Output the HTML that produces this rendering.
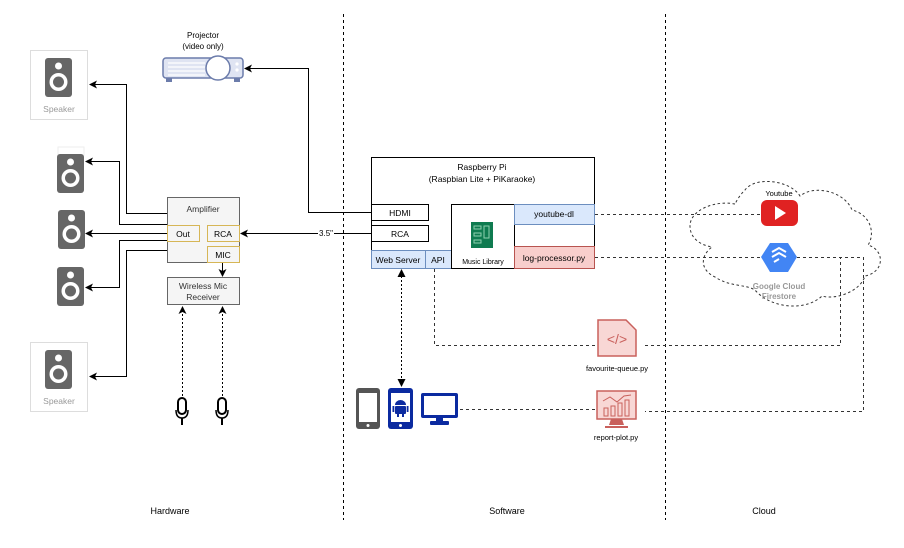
<!DOCTYPE html>
<html><head><meta charset="utf-8"><style>
html,body{margin:0;padding:0;background:#fff;}
svg{display:block;font-family:"Liberation Sans",Arial,sans-serif;}
</style></head><body>
<svg width="904" height="548" viewBox="0 0 904 548" xmlns="http://www.w3.org/2000/svg">
<defs>
<marker id="ah" markerWidth="8" markerHeight="8" refX="7" refY="4" orient="auto" markerUnits="userSpaceOnUse"><path d="M0,0 L8,4 L0,8 L2,4 z" fill="#000"/></marker>
<g id="spk"><rect x="0" y="0" width="27" height="39" rx="3" fill="#666"/><circle cx="13.5" cy="8" r="3.5" fill="#fff"/><circle cx="13.5" cy="24" r="9" fill="#fff"/><circle cx="13.5" cy="24" r="5.5" fill="#666"/></g>
<g id="mic"><rect x="-4" y="0" width="8" height="16" rx="4" fill="none" stroke="#000" stroke-width="2"/><path d="M-6,12 Q-6,20 0,20 Q6,20 6,12" fill="none" stroke="#000" stroke-width="1.5"/><line x1="0" y1="20" x2="0" y2="27" stroke="#000" stroke-width="2"/></g>
</defs>
<rect width="904" height="548" fill="#fff"/>
<!-- section dividers -->
<line x1="343.5" y1="14" x2="343.5" y2="520" stroke="#000" stroke-dasharray="3,3"/>
<line x1="665.5" y1="14" x2="665.5" y2="520" stroke="#000" stroke-dasharray="3,3"/>
<g font-size="9" fill="#000" text-anchor="middle">
<text x="170" y="514">Hardware</text><text x="507" y="514">Software</text><text x="764" y="514">Cloud</text>
</g>

<!-- speakers -->
<rect x="30.5" y="50.5" width="57" height="69" fill="#fff" stroke="#ddd"/>
<use href="#spk" x="45" y="58"/>
<text x="59" y="112" font-size="8.5" fill="#999" text-anchor="middle">Speaker</text>
<rect x="58" y="147" width="26" height="8" fill="#fff" stroke="#eee"/>
<use href="#spk" x="57" y="154"/>
<use href="#spk" x="58" y="210"/>
<use href="#spk" x="57" y="267"/>
<rect x="30.5" y="342.5" width="57" height="69" fill="#fff" stroke="#ddd"/>
<use href="#spk" x="45" y="350"/>
<text x="59" y="404" font-size="8.5" fill="#999" text-anchor="middle">Speaker</text>

<!-- amp lines -->
<g fill="none" stroke="#000" stroke-width="1">
<polyline points="167,213.5 126.5,213.5 126.5,84.5 90,84.5" marker-end="url(#ah)"/>
<polyline points="167,224.5 119.5,224.5 119.5,161.5 86,161.5" marker-end="url(#ah)"/>
<polyline points="167,233.5 86,233.5" marker-end="url(#ah)"/>
<polyline points="167,240.5 119.5,240.5 119.5,287.5 86,287.5" marker-end="url(#ah)"/>
<polyline points="167,250.5 126.5,250.5 126.5,376.5 90,376.5" marker-end="url(#ah)"/>
<polyline points="372,233.5 241,233.5" marker-end="url(#ah)"/>
<polyline points="372,212.5 308.5,212.5 308.5,68.5 245,68.5" marker-end="url(#ah)"/>
<polyline points="222.5,262 222.5,276" marker-end="url(#ah)"/>
</g>
<g fill="none" stroke="#000" stroke-dasharray="2,2">
<polyline points="182.5,396 182.5,307" marker-end="url(#ah)"/>
<polyline points="222.5,396 222.5,307" marker-end="url(#ah)"/>
</g>
<rect x="318" y="228" width="16" height="10" fill="#fff"/>
<text x="326" y="236" font-size="8" text-anchor="middle">3.5"</text>

<!-- amplifier -->
<rect x="167.5" y="197.5" width="72" height="65" fill="#f5f5f5" stroke="#666"/>
<text x="203" y="212" font-size="8.5" fill="#333" text-anchor="middle">Amplifier</text>
<rect x="167.5" y="225.5" width="32" height="16" fill="#f5f5f5" stroke="#d6b656"/>
<text x="183" y="237" font-size="8.5" text-anchor="middle">Out</text>
<rect x="207.5" y="225.5" width="32" height="16" fill="#f5f5f5" stroke="#d6b656"/>
<text x="223" y="237" font-size="8.5" text-anchor="middle">RCA</text>
<rect x="207.5" y="246.5" width="32" height="16" fill="#f5f5f5" stroke="#d6b656"/>
<text x="223" y="258" font-size="8.5" text-anchor="middle">MIC</text>
<rect x="167.5" y="277.5" width="72" height="27" fill="#f5f5f5" stroke="#666"/>
<text x="203" y="289" font-size="8.5" fill="#333" text-anchor="middle">Wireless Mic</text>
<text x="203" y="300" font-size="8.5" fill="#333" text-anchor="middle">Receiver</text>
<use href="#mic" x="182" y="398"/>
<use href="#mic" x="222" y="398"/>

<!-- projector -->
<text x="203" y="38" font-size="8" text-anchor="middle">Projector</text>
<text x="203" y="49" font-size="8" text-anchor="middle">(video only)</text>
<rect x="163" y="58" width="80" height="20" rx="3" fill="#dfe4f2" stroke="#6c7cab" stroke-width="1.5"/>
<rect x="166" y="78" width="6" height="4" fill="#6c7cab"/><rect x="234" y="78" width="6" height="4" fill="#6c7cab"/>
<g stroke="#fff" stroke-width="1.2"><line x1="168" y1="63" x2="205" y2="63"/><line x1="168" y1="67" x2="205" y2="67"/><line x1="168" y1="71" x2="205" y2="71"/><line x1="168" y1="75" x2="205" y2="75"/></g>
<circle cx="218" cy="68" r="12" fill="#fff" stroke="#6c7cab" stroke-width="1.5"/>
<circle cx="237" cy="64" r="1.6" fill="#fff"/><circle cx="237" cy="70" r="1.6" fill="#fff"/>

<!-- raspberry pi -->
<rect x="371.5" y="157.5" width="223" height="111" fill="#fff" stroke="#000"/>
<text x="482" y="170" font-size="8.5" text-anchor="middle">Raspberry Pi</text>
<text x="482" y="182" font-size="8.5" text-anchor="middle">(Raspbian Lite + PiKaraoke)</text>
<rect x="371.5" y="204.5" width="57" height="16" fill="#fff" stroke="#000"/>
<text x="400" y="216" font-size="8.5" text-anchor="middle">HDMI</text>
<rect x="371.5" y="225.5" width="57" height="16" fill="#fff" stroke="#000"/>
<text x="400" y="237" font-size="8.5" text-anchor="middle">RCA</text>
<rect x="371.5" y="250.5" width="54" height="18" fill="#dae8fc" stroke="#6c8ebf"/>
<text x="398" y="263" font-size="8.5" text-anchor="middle">Web Server</text>
<rect x="425.5" y="250.5" width="26" height="18" fill="#dae8fc" stroke="#6c8ebf"/>
<text x="438" y="263" font-size="8.5" text-anchor="middle">API</text>
<rect x="451.5" y="204.5" width="63" height="64" fill="#fff" stroke="#000"/>
<rect x="471" y="222" width="22" height="26" fill="#0f7b50"/>
<g fill="none" stroke="#8fd0b0" stroke-width="1"><rect x="474" y="226" width="7" height="3"/><rect x="474" y="233" width="7" height="3"/><rect x="474" y="240" width="7" height="3"/><rect x="484" y="226" width="5" height="12"/></g>
<text x="483" y="264" font-size="7" text-anchor="middle">Music Library</text>
<rect x="514.5" y="204.5" width="80" height="20" fill="#dae8fc" stroke="#6c8ebf"/>
<text x="554" y="217" font-size="8.5" text-anchor="middle">youtube-dl</text>
<rect x="514.5" y="246.5" width="80" height="22" fill="#f8cecc" stroke="#b85450"/>
<text x="554" y="261" font-size="8.5" text-anchor="middle">log-processor.py</text>

<!-- cloud -->
<path d="M735,204 C715,200 690,210 690,226 C690,238 700,245 712,247 C700,256 700,270 715,277 C730,287 745,284 755,290 C770,308 805,312 822,296 C835,300 860,292 865,276 C885,272 885,250 868,245 C875,235 872,215 852,210 C845,192 815,184 800,196 C790,180 755,176 745,190 C740,195 737,200 735,204 z" fill="#fff" stroke="#333" stroke-dasharray="2.5,2.5"/>

<!-- dashed connectors -->
<g fill="none" stroke="#333" stroke-dasharray="3,3">
<line x1="595" y1="214.5" x2="760" y2="214.5"/>
<line x1="595" y1="257.5" x2="762" y2="257.5"/>
<polyline points="797,257.5 840.5,257.5 840.5,345.5 645,345.5"/>
<polyline points="797,257.5 863.5,257.5 863.5,411.5 645,411.5"/>
<polyline points="434.5,269 434.5,345.5 598,345.5"/>
<line x1="460" y1="409.5" x2="596" y2="409.5"/>
</g>
<g fill="none" stroke="#000" stroke-dasharray="2,2">
<line x1="401.5" y1="276" x2="401.5" y2="380"/>
</g>
<path d="M401.5,269 L397.5,277 L405.5,277 z" fill="#000"/>
<path d="M401.5,387 L397.5,379 L405.5,379 z" fill="#000"/>

<text x="779" y="196" font-size="7.5" text-anchor="middle">Youtube</text>
<rect x="761" y="200" width="37" height="26" rx="6" fill="#e02222"/>
<path d="M775,206 L775,220 L786,213 z" fill="#fff"/>
<polygon points="770,243 788,243 797,257 788,272 770,272 761,257" fill="#4285f4"/>
<g fill="none" stroke="#fff" stroke-width="2"><path d="M772,252 L779,248 L786,252"/><path d="M772,257 L779,253 L786,257"/><path d="M774,262 L779,259"/></g>
<text x="779" y="289" font-size="8" font-weight="bold" fill="#999" text-anchor="middle">Google Cloud</text>
<text x="779" y="299" font-size="8" font-weight="bold" fill="#999" text-anchor="middle">Firestore</text>

<!-- favourite-queue -->
<path d="M598,320 L626,320 L636,330 L636,356 L598,356 z" fill="#f8d7d5" stroke="#c9605c" stroke-width="1.5"/>
<text x="617" y="344" font-size="14" fill="#c9605c" text-anchor="middle">&lt;/&gt;</text>
<text x="617" y="371" font-size="7.5" text-anchor="middle">favourite-queue.py</text>
<!-- report-plot -->
<rect x="597" y="391" width="39" height="28" fill="#f8d7d5" stroke="#c9605c" stroke-width="1.5"/>
<path d="M611,419 L622,419 L624,425 L609,425 z" fill="#c9605c"/>
<rect x="605" y="426" width="23" height="2" fill="#c9605c"/>
<g fill="none" stroke="#c9605c" stroke-width="1"><rect x="604" y="408" width="4" height="8"/><rect x="611" y="406" width="4" height="10"/><rect x="618" y="403" width="4" height="13"/><rect x="625" y="400" width="4" height="16"/><polyline points="603,401 610,397 617,402 624,396 631,395"/></g>
<text x="616" y="440" font-size="7.5" text-anchor="middle">report-plot.py</text>

<!-- devices -->
<rect x="356" y="388" width="24" height="41" rx="3" fill="#555"/>
<rect x="359" y="393" width="18" height="29" fill="#fff"/>
<circle cx="368" cy="425.5" r="1.5" fill="#fff"/>
<rect x="388" y="388" width="25" height="41" rx="3" fill="#0b2aa0"/>
<rect x="391" y="393" width="19" height="29" fill="#fff"/>
<circle cx="400.5" cy="425.5" r="1.5" fill="#fff"/>
<path d="M395,405 A5.5,5 0 0 1 406,405 z" fill="#0b2aa0"/>
<rect x="395" y="406" width="11" height="8" rx="1" fill="#0b2aa0"/>
<rect x="397" y="413" width="2" height="4" fill="#0b2aa0"/><rect x="402" y="413" width="2" height="4" fill="#0b2aa0"/>
<rect x="392.5" y="406" width="1.8" height="6" fill="#0b2aa0"/><rect x="406.7" y="406" width="1.8" height="6" fill="#0b2aa0"/>
<rect x="421" y="393" width="37" height="25" rx="2" fill="#0b2aa0"/>
<rect x="424" y="396" width="31" height="19" fill="#fff"/>
<rect x="436" y="418" width="7" height="4" fill="#0b2aa0"/>
<rect x="430" y="421" width="19" height="4" rx="1" fill="#0b2aa0"/>
</svg>
</body></html>
